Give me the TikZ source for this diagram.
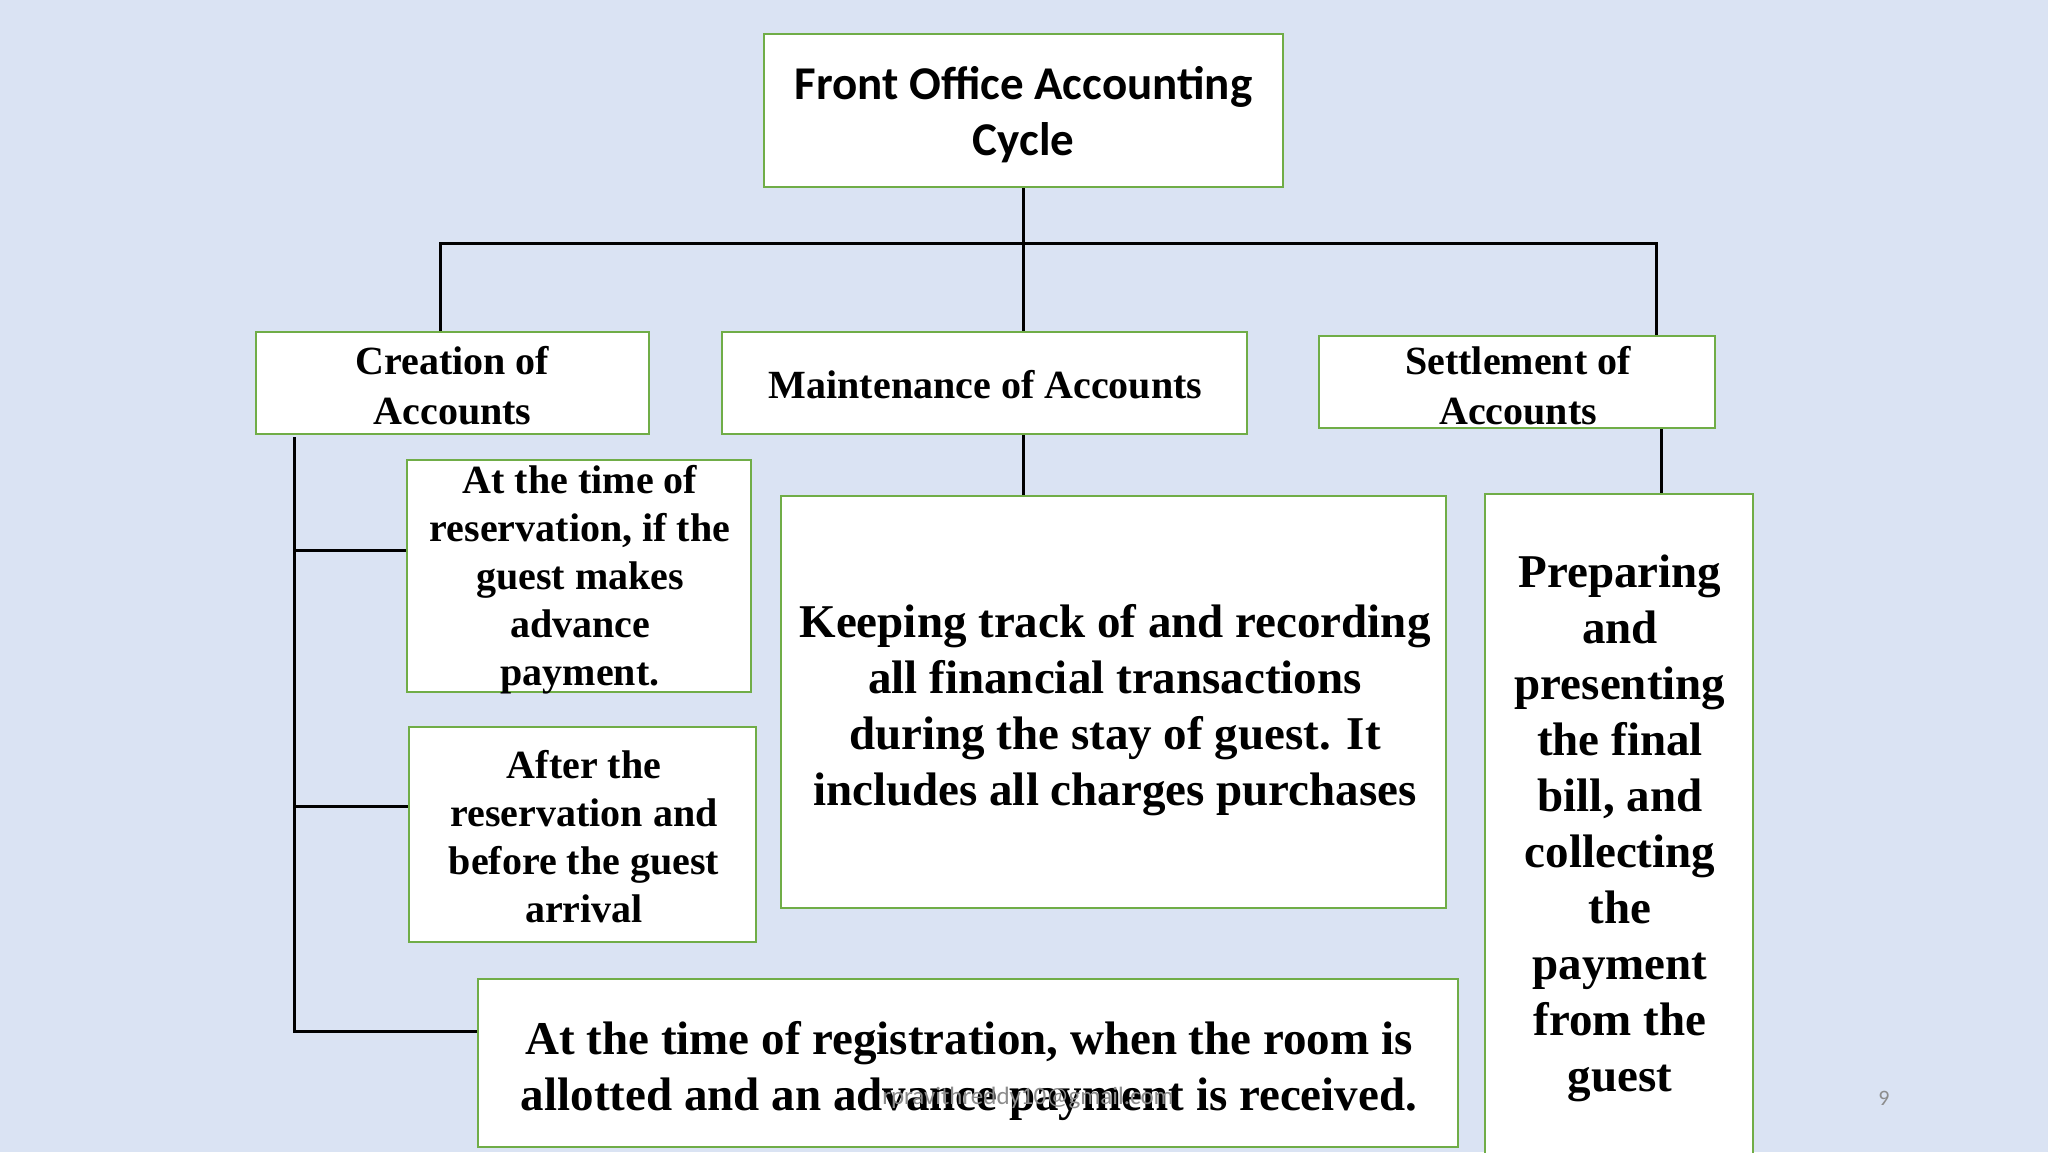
\documentclass[tikz,border=0pt]{standalone}
\usepackage{fontspec}
\setmainfont{Liberation Serif}
\newfontfamily\calfont{Carlito}
\usetikzlibrary{positioning, calc}
\definecolor{slidebg}{RGB}{218,227,243}
\definecolor{boxgreen}{RGB}{112,173,71}

\begin{document}
\begin{tikzpicture}[x=0.5pt, y=-0.5pt,
    box/.style={draw=boxgreen, fill=white, line width=1.25pt, inner sep=0pt},
    txt/.style={align=center, inner sep=0pt, font=\bfseries\fontsize{23.5}{28}\selectfont},
    smalltxt/.style={align=center, inner sep=0pt, font=\bfseries\fontsize{20}{24}\selectfont},
    link/.style={line width=1.5pt}]
    % slide background
    \useasboundingbox (0, 0) rectangle (2048, 1152);
    \fill[slidebg] (0, 0) rectangle (2048, 1152);

    % top box
    \node[box, minimum width=259.5pt, minimum height=76.5pt] (top) at (1023.5, 110.5) {};
    \node[txt, font=\calfont\bfseries\fontsize{23.5}{28}\selectfont] (topt) at (1023.5, 115)
        {Front Office Accounting\\Cycle};

    % second row
    \node[box, minimum width=196.5pt, minimum height=51pt] (create) at (452.5, 383) {};
    \node[smalltxt, font=\bfseries\fontsize{20}{25}\selectfont] (createt) at (452.5, 386) {Creation of\\Accounts};
    \node[box, minimum width=262.5pt, minimum height=51pt] (maint) at (984.5, 383) {};
    \node[smalltxt] (maintt) at (985.5, 385) {Maintenance of Accounts};
    \node[box, minimum width=198pt, minimum height=46pt] (settle) at (1517, 382) {};
    \node[smalltxt, font=\bfseries\fontsize{20}{25}\selectfont] (settlet) at (1518, 386) {Settlement of\\Accounts};

    % creation branch
    \node[box, minimum width=172pt, minimum height=116pt] (c1) at (579, 576) {};
    \node[box, minimum width=173.5pt, minimum height=107.5pt] (c2) at (582.5, 834.5) {};
    \node[box, minimum width=490pt, minimum height=84pt] (c3) at (968, 1063) {};

    % maintenance and settlement
    \node[box, minimum width=332.5pt, minimum height=206pt] (m1) at (1113.5, 702) {};
    \node[box, minimum width=134pt, minimum height=334pt] (s1) at (1619, 828) {};

    % texts of the lower boxes
    \node[smalltxt] (c1t) at (580, 580)
        {At the time of\\reservation, if the\\guest makes\\advance\\payment.};
    \node[smalltxt] (c2t) at (584, 837)
        {After the\\reservation and\\before the guest\\arrival};
    \node[txt] (c3t) at (969, 1071)
        {At the time of registration, when the room is\\allotted and an advance payment is received.};
    \node[txt] (m1t) at (1115, 710)
        {Keeping track of and recording\\all financial transactions\\during the stay of guest. It\\includes all charges purchases};
    \node[txt] (s1t) at (1620, 828)
        {Preparing\\and\\presenting\\the final\\bill, and\\collecting\\the\\payment\\from the\\guest};

    % cross lines
    \coordinate (barL) at (440, 243);
    \coordinate (barR) at (1656, 243);
    \coordinate (spine) at (294, 437);
    \coordinate (sdrop) at (1661, 0);
    \coordinate (c1in) at ([yshift=13pt]c1.west);
    \coordinate (c2in) at ([yshift=14pt]c2.west);
    \coordinate (c3in) at ([yshift=16pt]c3.west);
    \draw[link] (top.south) -- (top.south |- maint.north);
    \draw[link] (barL |- create.north) -- (barL) -- (barR) -- (barR |- settle.north);
    \draw[link] (top.south |- maint.south) -- (top.south |- m1.north);
    \draw[link] (sdrop |- settle.south) -- (sdrop |- s1.north);
    \draw[link] (spine) |- (c3in);
    \draw[link] (spine |- c1in) -- (c1in);
    \draw[link] (spine |- c2in) -- (c2in);

    % footer
    \node[text=black!45, font=\calfont\fontsize{12.5}{14}\selectfont] (mail) at (1028, 1098) {rpravithreddy10@gmail.com};
    \node[text=black!45, font=\calfont\fontsize{11}{13}\selectfont] (pageno) at (1884, 1098) {9};
\end{tikzpicture}
\end{document}
